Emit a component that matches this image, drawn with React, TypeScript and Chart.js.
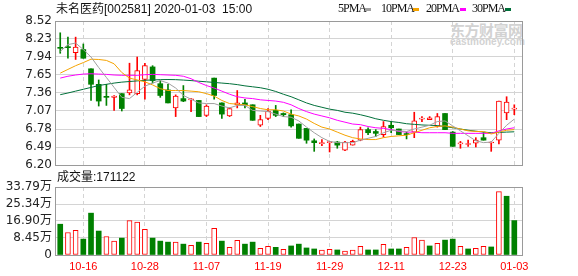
import React, { useEffect, useRef } from 'react';
import { Chart, registerables } from 'chart.js';

Chart.register(...registerables);

const title = '未名医药[002581] 2020-01-03  15:00';
const volumeTitle = '成交量:171122';

const dates = ['10-11','10-14','10-15','10-16','10-17','10-18','10-21','10-22','10-23','10-24','10-25','10-28','10-29','10-30','10-31','11-01','11-04','11-05','11-06','11-07','11-08','11-11','11-12','11-13','11-14','11-15','11-18','11-19','11-20','11-21','11-22','11-25','11-26','11-27','11-28','11-29','12-02','12-03','12-04','12-05','12-06','12-09','12-10','12-11','12-12','12-13','12-16','12-17','12-18','12-19','12-20','12-23','12-24','12-25','12-26','12-27','12-30','12-31','01-02','01-03'];

const opens = [8.09, 8.10, 8.01, 8.06, 7.75, 7.50, 7.30, 7.29, 7.35, 7.36,
  7.35, 7.58, 7.78, 7.51, 7.41, 7.12, 7.27, 7.25, 7.24, 7.00,
  7.60, 7.20, 6.99, 7.17, 7.20, 7.17, 6.84, 6.95, 7.08, 7.03,
  7.01, 6.86, 6.79, 6.59, 6.545, 6.56, 6.57, 6.44, 6.52, 6.60,
  6.77, 6.74, 6.69, 6.84, 6.78, 6.70, 6.73, 6.94, 6.93, 6.82,
  7.03, 6.73, 6.54, 6.53, 6.55, 6.64, 6.555, 6.60, 7.04, 7.10];
const highs = [8.33, 8.26, 8.26, 8.15, 7.75, 7.57, 7.50, 7.32, 7.35, 7.84,
  7.94, 7.84, 7.80, 7.56, 7.50, 7.33, 7.48, 7.27, 7.24, 7.17,
  7.60, 7.20, 7.12, 7.40, 7.26, 7.17, 7.00, 7.11, 7.16, 7.04,
  7.09, 6.86, 6.79, 6.62, 6.61, 6.58, 6.58, 6.58, 6.60, 6.81,
  6.80, 6.77, 6.90, 6.90, 6.78, 6.73, 7.05, 6.98, 6.98, 7.03,
  7.03, 6.74, 6.58, 6.60, 6.64, 6.72, 6.575, 7.23, 7.30, 7.17];
const lows = [8.00, 7.92, 7.90, 7.92, 7.24, 7.15, 7.16, 7.08, 7.07, 7.33,
  7.33, 7.26, 7.52, 7.29, 7.20, 6.98, 7.22, 7.06, 6.98, 6.98,
  7.26, 6.95, 6.98, 7.12, 7.12, 6.92, 6.82, 6.93, 6.98, 6.98,
  6.81, 6.63, 6.55, 6.42, 6.51, 6.41, 6.47, 6.43, 6.52, 6.59,
  6.69, 6.66, 6.65, 6.72, 6.69, 6.62, 6.64, 6.90, 6.93, 6.81,
  6.77, 6.50, 6.47, 6.50, 6.49, 6.60, 6.42, 6.54, 6.93, 7.01];
const closes = [8.08, 8.09, 8.10, 7.92, 7.50, 7.23, 7.29, 7.31, 7.11, 7.41,
  7.72, 7.80, 7.56, 7.32, 7.20, 7.31, 7.23, 7.26, 6.98, 7.15,
  7.32, 7.02, 7.11, 7.20, 7.17, 6.92, 6.93, 7.07, 7.00, 7.01,
  6.83, 6.63, 6.60, 6.56, 6.56, 6.575, 6.52, 6.57, 6.58, 6.77,
  6.72, 6.71, 6.82, 6.80, 6.69, 6.69, 6.91, 6.95, 6.96, 6.98,
  6.77, 6.50, 6.55, 6.54, 6.60, 6.60, 6.57, 7.23, 7.215, 7.103];

const ma5 = [8.03, 8.14, 8.165, 8.06, 7.94, 7.77, 7.61, 7.45, 7.29, 7.27,
  7.37, 7.47, 7.52, 7.56, 7.52, 7.44, 7.32, 7.26, 7.20, 7.19,
  7.19, 7.15, 7.12, 7.16, 7.16, 7.08, 7.07, 7.06, 7.02, 6.98,
  6.97, 6.91, 6.81, 6.72, 6.64, 6.58, 6.56, 6.56, 6.56, 6.60,
  6.63, 6.66, 6.72, 6.76, 6.75, 6.74, 6.78, 6.81, 6.84, 6.90,
  6.91, 6.83, 6.75, 6.67, 6.59, 6.56, 6.57, 6.71, 6.84, 6.94];
const ma10 = [7.68, 7.74, 7.80, 7.85, 7.905, 7.90, 7.885, 7.83, 7.69, 7.60,
  7.57, 7.54, 7.49, 7.43, 7.40, 7.40, 7.40, 7.39, 7.38, 7.35,
  7.31, 7.24, 7.19, 7.18, 7.17, 7.14, 7.11, 7.09, 7.09, 7.07,
  7.02, 6.99, 6.94, 6.87, 6.81, 6.78, 6.73, 6.68, 6.64, 6.62,
  6.61, 6.61, 6.64, 6.66, 6.67, 6.68, 6.72, 6.76, 6.80, 6.82,
  6.83, 6.81, 6.78, 6.75, 6.74, 6.74, 6.70, 6.73, 6.76, 6.77];
const ma20 = [7.60, 7.63, 7.65, 7.665, 7.67, 7.665, 7.66, 7.65, 7.645, 7.645,
  7.645, 7.655, 7.66, 7.655, 7.65, 7.645, 7.63, 7.59, 7.53, 7.48,
  7.44, 7.39, 7.34, 7.30, 7.28, 7.27, 7.25, 7.24, 7.23, 7.21,
  7.17, 7.11, 7.06, 7.02, 6.99, 6.96, 6.92, 6.89, 6.86, 6.85,
  6.82, 6.80, 6.79, 6.77, 6.74, 6.73, 6.73, 6.72, 6.72, 6.72,
  6.72, 6.71, 6.71, 6.71, 6.71, 6.71, 6.71, 6.75, 6.78, 6.80];
const ma30 = [7.333, 7.36, 7.39, 7.42, 7.45, 7.48, 7.50, 7.52, 7.535, 7.545,
  7.555, 7.565, 7.57, 7.575, 7.577, 7.575, 7.568, 7.56, 7.55, 7.54,
  7.53, 7.52, 7.51, 7.495, 7.475, 7.46, 7.445, 7.42, 7.385, 7.34,
  7.30, 7.25, 7.20, 7.16, 7.13, 7.10, 7.08, 7.05, 7.035, 7.01,
  6.98, 6.945, 6.92, 6.90, 6.885, 6.865, 6.855, 6.845, 6.84, 6.835,
  6.82, 6.80, 6.78, 6.76, 6.745, 6.73, 6.72, 6.725, 6.73, 6.735];

// volume in 万
const volumes = [15.3, 11.2, 12.2, 7.9, 20.8, 11.9, 9.2, 6.9, 8.4, 17.1,
  16.3, 12.7, 8.4, 6.9, 6.4, 6.4, 5.4, 4.8, 6.4, 5.8,
  13.2, 6.9, 3.8, 7.3, 5.4, 6.4, 3.3, 4.3, 3.8, 2.8,
  4.5, 5.4, 3.5, 3.0, 2.5, 2.8, 2.5, 2.0, 2.5, 4.3,
  2.5, 2.5, 5.3, 3.0, 3.0, 3.8, 8.7, 7.4, 4.5, 5.8,
  7.4, 7.9, 4.3, 3.0, 3.3, 4.3, 4.0, 31.5, 29.2, 17.11];
// 1 = up day (red), 0 = down day (green)
const volumeUp = [0,1,1,0,0,0,1,1,0,1,
  1,1,0,0,0,1,0,1,0,1,
  1,0,1,1,0,0,1,1,0,1,
  0,0,0,0,1,1,0,1,1,1,
  0,0,1,0,0,1,1,1,0,1,
  0,0,1,0,1,1,0,1,0,0];

const priceTicks = [6.20, 6.49, 6.78, 7.07, 7.36, 7.65, 7.94, 8.23, 8.52];
const volumeTicks = [0, 8.45, 16.90, 25.34, 33.79];
const xTickDates = ['10-16','10-28','11-07','11-19','11-29','12-11','12-23','01-03'];

const legendNames = ['5PMA', '10PMA', '20PMA', '30PMA'];

const RED = '#ff0000';
const GREEN = '#008000';
const MA_COLORS = ['#a0a0a0', '#f5a300', '#ff00ff', '#00703a'];
const GRID = '#d4d4d4';
const FRAME = '#9a9a9a';
const LABEL = '#222222';

const framePlugin = {
  id: 'frame',
  afterDraw(chart: any) {
    const { ctx, chartArea } = chart;
    const { left, top, right, bottom } = chartArea;
    ctx.save();
    ctx.strokeStyle = FRAME;
    ctx.lineWidth = 1;
    ctx.strokeRect(left + 0.5, top + 0.5, right - left, bottom - top);
    ctx.restore();
  },
};

const xBase = (showLabels: boolean) => ({
  type: 'linear' as const,
  min: -0.68,
  max: 60.0,
  offset: false,
  afterBuildTicks: (s: any) => {
    s.ticks = xTickDates.map((d) => ({ value: dates.indexOf(d) }));
  },
  afterFit: (s: any) => {
    s.height = showLabels ? 21 : 0;
  },
  grid: { color: GRID, drawTicks: false, lineWidth: 1, offset: false },
  border: { display: false, dash: [4, 3] },
  ticks: {
    display: showLabels,
    autoSkip: false,
    maxRotation: 0,
    padding: 5,
    color: RED,
    font: { family: "'Liberation Sans', Arial, sans-serif", size: 11 },
    callback: (v: any) => dates[Number(v)] ?? '',
  },
});

export default function App() {
  const priceRef = useRef<HTMLCanvasElement>(null);
  const volRef = useRef<HTMLCanvasElement>(null);

  useEffect(() => {
    const idx = dates.map((_, i) => i);
    const up = idx.map((i) => closes[i] >= opens[i]);

    const price = new Chart(priceRef.current as HTMLCanvasElement, {
      type: 'bar',
      data: {
        datasets: [
          ...[ma5, ma10, ma20, ma30].map((arr, k) => ({
            type: 'line' as const,
            data: idx.map((i) => ({ x: i, y: arr[i] })),
            borderColor: MA_COLORS[k],
            borderWidth: 1,
            pointRadius: 0,
            tension: 0,
            fill: false,
            order: 1,
          })),
          {
            type: 'bar' as const,
            data: idx.map((i) => ({ x: i, y: [opens[i], closes[i]] })),
            backgroundColor: idx.map((i) => (up[i] ? '#ffffff' : GREEN)),
            borderColor: idx.map((i) => (up[i] ? RED : GREEN)),
            borderWidth: idx.map((i) => (up[i] ? 1 : 0)),
            borderSkipped: false,
            barThickness: 5,
            minBarLength: 1,
            grouped: false,
            order: 2,
          },
          {
            type: 'bar' as const,
            data: idx.map((i) => ({ x: i, y: [lows[i], highs[i]] })),
            backgroundColor: idx.map((i) => (up[i] ? RED : GREEN)),
            borderWidth: 0,
            barThickness: 1,
            grouped: false,
            order: 3,
          },
        ] as any,
      },
      options: {
        animation: false,
        responsive: false,
        events: [],
        layout: { padding: { top: 21, right: 56, bottom: 111, left: 0 } },
        plugins: { legend: { display: false }, tooltip: { enabled: false } },
        scales: {
          x: xBase(false) as any,
          y: {
            type: 'linear',
            min: 6.2,
            max: 8.52,
            afterBuildTicks: (s: any) => {
              s.ticks = priceTicks.map((v) => ({ value: v }));
            },
            afterFit: (s: any) => {
              s.width = 55;
            },
            grid: { color: GRID, drawTicks: false },
            border: { display: false },
            ticks: {
              padding: 3,
              autoSkip: false,
              color: LABEL,
              font: { family: "'DejaVu Sans', sans-serif", size: 12 },
              callback: (v: any) => Number(v).toFixed(2),
            },
          },
        },
      },
      plugins: [framePlugin],
    });

    const volume = new Chart(volRef.current as HTMLCanvasElement, {
      type: 'bar',
      data: {
        datasets: [
          {
            data: idx.map((i) => ({ x: i, y: volumes[i] })),
            backgroundColor: idx.map((i) => (volumeUp[i] ? '#ffffff' : GREEN)),
            borderColor: idx.map((i) => (volumeUp[i] ? RED : GREEN)),
            borderWidth: idx.map((i) => (volumeUp[i] ? 1 : 0)),
            borderSkipped: false,
            barThickness: 5,
            grouped: false,
          },
        ] as any,
      },
      options: {
        animation: false,
        responsive: false,
        events: [],
        layout: { padding: { top: 187, right: 56, bottom: 0, left: 0 } },
        plugins: { legend: { display: false }, tooltip: { enabled: false } },
        scales: {
          x: xBase(true) as any,
          y: {
            type: 'linear',
            min: 0,
            max: 33.79,
            afterBuildTicks: (s: any) => {
              s.ticks = volumeTicks.map((v) => ({ value: v }));
            },
            afterFit: (s: any) => {
              s.width = 55;
            },
            grid: { color: GRID, drawTicks: false },
            border: { display: false },
            ticks: {
              padding: 3,
              autoSkip: false,
              color: LABEL,
              font: { family: "'DejaVu Sans', 'Noto Sans CJK SC', sans-serif", size: 12 },
              callback: (v: any) => (Number(v) === 0 ? '0' : Number(v).toFixed(2) + '万'),
            },
          },
        },
      },
      plugins: [framePlugin],
    });

    return () => {
      price.destroy();
      volume.destroy();
    };
  }, []);

  const legendPos = [
    { text: 338, box: 365 },
    { text: 381, box: 413 },
    { text: 426, box: 460 },
    { text: 472, box: 505 },
  ];

  return (
    <div
      style={{
        position: 'fixed',
        left: 0,
        top: 0,
        width: 578,
        height: 276,
        background: '#ffffff',
        overflow: 'hidden',
      }}
    >
      <div
        style={{
          position: 'absolute',
          left: 450,
          top: 21,
          color: '#d2d2d2',
          fontFamily: "'Noto Sans CJK SC', sans-serif",
          fontWeight: 700,
          fontSize: 15,
          lineHeight: '17px',
          whiteSpace: 'nowrap',
          letterSpacing: -0.5,
        }}
      >
        东方财富网
      </div>
      <div
        style={{
          position: 'absolute',
          left: 450,
          top: 36,
          color: '#d2d2d2',
          fontFamily: "'Liberation Sans', Arial, sans-serif",
          fontWeight: 700,
          fontSize: 10,
          lineHeight: '11px',
          whiteSpace: 'nowrap',
        }}
      >
        eastmoney.com
      </div>
      <canvas
        ref={priceRef}
        width={578}
        height={276}
        style={{ position: 'absolute', left: 0, top: 0, width: 578, height: 276 }}
      />
      <canvas
        ref={volRef}
        width={578}
        height={276}
        style={{ position: 'absolute', left: 0, top: 0, width: 578, height: 276 }}
      />
      <div
        style={{
          position: 'absolute',
          left: 56,
          top: 2,
          fontFamily: "'Liberation Sans', 'Noto Sans CJK SC', sans-serif",
          fontSize: 12,
          lineHeight: '14px',
          color: '#111',
          whiteSpace: 'pre',
        }}
      >
        {title}
      </div>
      {legendNames.map((name, k) => (
        <React.Fragment key={name}>
          <div
            style={{
              position: 'absolute',
              left: legendPos[k].text,
              top: 2,
              fontFamily: "'Liberation Serif', serif",
              fontSize: 12,
              lineHeight: '13px',
              letterSpacing: -1,
              color: '#111',
              whiteSpace: 'nowrap',
            }}
          >
            {name}
          </div>
          <div
            style={{
              position: 'absolute',
              left: legendPos[k].box,
              top: 8,
              width: 6,
              height: 3,
              background: MA_COLORS[k],
            }}
          />
        </React.Fragment>
      ))}
      <div
        style={{
          position: 'absolute',
          left: 57,
          top: 170,
          fontFamily: "'Liberation Sans', 'Noto Sans CJK SC', sans-serif",
          fontSize: 12,
          lineHeight: '14px',
          color: '#111',
          whiteSpace: 'pre',
        }}
      >
        {volumeTitle}
      </div>
    </div>
  );
}
